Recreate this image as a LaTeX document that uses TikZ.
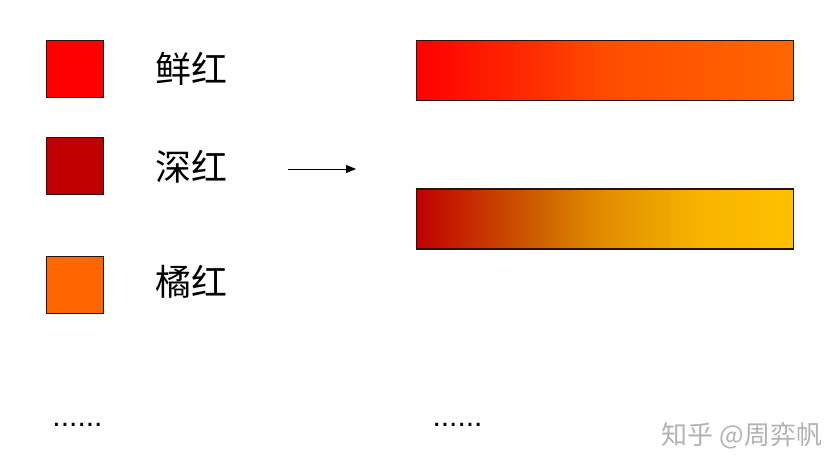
\documentclass[tikz,border=0pt]{standalone}
\usepackage{fontspec}
\setmainfont{Liberation Sans}
\newfontfamily\cjk{Noto Sans CJK SC}
\usetikzlibrary{arrows.meta}
\definecolor{bright}{RGB}{255,0,0}
\definecolor{deep}{RGB}{192,0,0}
\definecolor{orangered}{RGB}{255,102,0}
\definecolor{gold}{RGB}{255,192,0}
\definecolor{midA}{RGB}{205,98,0}
\definecolor{midB}{RGB}{226,142,0}
\definecolor{midC}{RGB}{246,180,0}
\definecolor{topA}{RGB}{255,48,0}
\definecolor{topB}{RGB}{255,76,0}
\definecolor{edge}{RGB}{40,18,18}
\pgfdeclarehorizontalshading{deepgold}{100bp}{color(0bp)=(deep); color(25bp)=(deep); color(41.5bp)=(midA); color(50bp)=(midB); color(62.5bp)=(midC); color(75bp)=(gold); color(100bp)=(gold)}
\pgfdeclarehorizontalshading{redorange}{100bp}{color(0bp)=(bright); color(25bp)=(bright); color(41.5bp)=(topA); color(50bp)=(topB); color(75bp)=(orangered); color(100bp)=(orangered)}
\begin{document}
\begin{tikzpicture}[x=1pt,y=1pt,
  swatch/.style={draw=edge,line width=1.8pt,minimum width=57pt,minimum height=57pt,inner sep=0pt},
  bar/.style={draw=edge,line width=1.8pt,minimum width=377pt,minimum height=60pt,inner sep=0pt},
  lbl/.style={font=\cjk\fontsize{36}{40}\selectfont,inner sep=0pt},
  dots/.style={font=\fontsize{30}{30}\selectfont,inner sep=0pt}]
\fill[white] (0,0) rectangle (838,472);
\useasboundingbox (0,0) rectangle (838,472);
\node[swatch,fill=bright] (s1) at (75,403) {};
\node[swatch,fill=deep] (s2) at (75,306) {};
\node[swatch,fill=orangered] (s3) at (75,187) {};
\node[lbl] (l1) at (191,403) {鲜红};
\node[lbl] (l2) at (191,305) {深红};
\node[lbl] (l3) at (191,190) {橘红};
\coordinate (a1) at (288,303);
\coordinate (a2) at (356,303);
\draw[line width=0.8pt,-{Triangle[length=10pt,width=8pt]}] (a1) -- (a2);
\node[bar,shading=redorange] (b1) at (605,401.5) {};
\node[bar,shading=deepgold] (b2) at (605,253) {};
\node[dots] (d1) at (77.5,47) {......};
\node[dots] (d2) at (457.5,47) {......};
\node[font=\cjk\fontsize{26}{30}\selectfont,text=black!30,inner sep=0pt] (wm) at (742,36) {知乎 @周弈帆};
\end{tikzpicture}
\end{document}
